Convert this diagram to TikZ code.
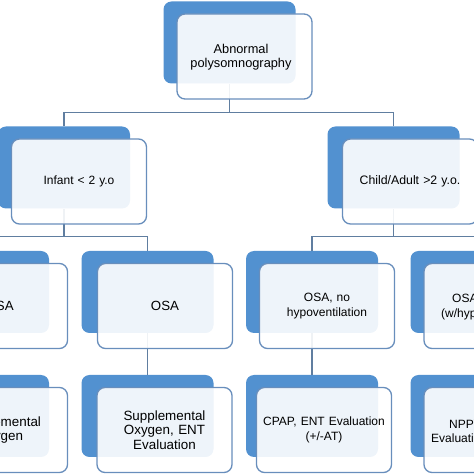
\documentclass[tikz,border=0pt]{standalone}
\usepackage{fontspec}
\setmainfont{Liberation Sans}
\definecolor{bluebg}{RGB}{82,145,208}
\definecolor{boxline}{RGB}{104,142,188}
\definecolor{connline}{RGB}{96,126,160}
\tikzset{
  back/.style={rectangle, rounded corners=8pt, fill=bluebg, minimum width=132pt, minimum height=82pt, inner sep=0pt},
  front/.style={rectangle, rounded corners=8pt, draw=boxline, line width=1.3pt, fill=white, fill opacity=0.9, text opacity=1, minimum width=135pt, minimum height=85pt, inner sep=0pt, align=center, text width=133pt, font=\fontsize{12}{14.5}\selectfont},
  fsize/.style={font=\fontsize{#1}{14.5}\selectfont},
  frontlabel/.style={anchor=west, align=left, inner sep=0pt, font=\fontsize{12}{14.5}\selectfont},
  conn/.style={draw=connline, line width=1.3pt},
}
\begin{document}
\begin{tikzpicture}[x=1pt,y=1pt]
\useasboundingbox (0,0) rectangle (474,474);
\clip (0,0) rectangle (474,474);
% back (blue) shapes
\node[back] (A) at (229.5,431.5) {};
\node[back] (B) at (64,306.5) {};
\node[back] (C) at (393.5,306.5) {};
\node[back] (D1) at (-17,182) {};
\node[back] (D2) at (147.5,182) {};
\node[back] (D3) at (312,182) {};
\node[back] (D4) at (476.5,182) {};
\node[back] (E1) at (-17,58) {};
\node[back] (E2) at (147.5,58) {};
\node[back] (E3) at (312,58) {};
\node[back] (E4) at (476.5,58) {};
% connectors
\draw[conn] (B.north) -- ++(0,14) -| (A.south);
\draw[conn] (C.north) -- ++(0,14) -| (A.south);
\draw[conn] (D1.north) -- ++(0,14) -| (B.south);
\draw[conn] (D2.north) -- ++(0,14) -| (B.south);
\draw[conn] (D3.north) -- ++(0,14) -| (C.south);
\draw[conn] (D4.north) -- ++(0,14) -| (C.south);
\draw[conn] (D1.south) -- (E1.north);
\draw[conn] (D2.south) -- (E2.north);
\draw[conn] (D3.south) -- (E3.north);
\draw[conn] (D4.south) -- (E4.north);
% front boxes
\node[front] (Aw) at (244.5,417.5) {};
\node[front] (Bw) at (79,292.5) {Infant < 2 y.o};
\node[front, fsize=12.3] (Cw) at (410,292.5) {Child/Adult >2 y.o.};
\node[front, fsize=13.3] (D1w) at (0,168) {CSA};
\node[front, fsize=13.3] (D2w) at (165,168) {OSA};
\node[front] (D3w) at (327,168) {OSA, no\\hypoventilation};
\node[front] (D4w) at (491.5,168) {};
\node[front, fsize=13.4] (E1w) at (0,44) {Supplemental\\Oxygen};
\node[front, fsize=13.4] (E2w) at (164.5,44) {Supplemental\\Oxygen, ENT\\Evaluation};
\node[front] (E3w) at (324,44) {CPAP, ENT Evaluation\\(+/-AT)};
\node[front] (E4w) at (491.5,44) {};
\node[frontlabel, anchor=center, align=center, fsize=12.8] (At) at (241,417) {Abnormal\\polysomnography};
\node[frontlabel] (D4t) at (441,167) {\hspace*{11pt}OSA\\(w/hypoventilation)};
\node[frontlabel] (E4t) at (431,42.5) {\hspace*{18pt}NPPV\\Evaluation};
\end{tikzpicture}
\end{document}
